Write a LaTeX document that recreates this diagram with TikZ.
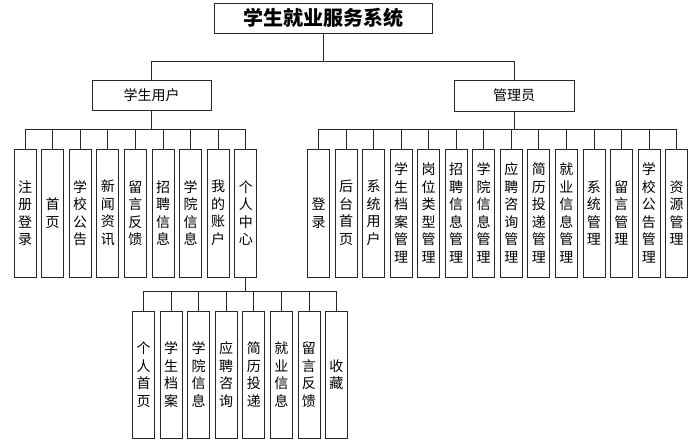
\documentclass[tikz,border=0pt]{standalone}
\usepackage{fontspec}
\newfontfamily\cjk{Noto Sans CJK SC}
\begin{document}
\begin{tikzpicture}[x=1pt,y=-1pt,
  conn/.style={draw=black!85, line width=0.8pt},
  box/.style={draw=black!85, line width=0.8pt, fill=white, inner sep=0pt, align=center,
    font=\cjk\fontsize{14}{17.5}\selectfont},
  leaf/.style={box, minimum width=22pt, minimum height=128pt}]
\useasboundingbox (0,0) rectangle (694,446);
\node[box, minimum width=218pt, minimum height=30pt, font=\cjk\bfseries\fontsize{20}{24}\selectfont] (top) at (323,18) {学生就业服务系统};
\node[box, minimum width=119pt, minimum height=30pt] (su) at (151.5,95) {学生用户};
\node[box, minimum width=120pt, minimum height=31pt] (ad) at (514,95.5) {管理员};
\coordinate (tbar) at (0,61);
\coordinate (sbar) at (0,129);
\coordinate (pbar) at (0,291);
\foreach \t [count=\i from 0] in {{注\\册\\登\\录},{首\\页},{学\\校\\公\\告},{新\\闻\\资\\讯},{留\\言\\反\\馈},{招\\聘\\信\\息},{学\\院\\信\\息},{我\\的\\账\\户},{个\\人\\中\\心}}
  \node[leaf] (s\i) at (25+27.6*\i,213) {\t};
\foreach \t [count=\i from 0] in {{登\\录},{后\\台\\首\\页},{系\\统\\用\\户},{学\\生\\档\\案\\管\\理},{岗\\位\\类\\型\\管\\理},{招\\聘\\信\\息\\管\\理},{学\\院\\信\\息\\管\\理},{应\\聘\\咨\\询\\管\\理},{简\\历\\投\\递\\管\\理},{就\\业\\信\\息\\管\\理},{系\\统\\管\\理},{留\\言\\管\\理},{学\\校\\公\\告\\管\\理},{资\\源\\管\\理}}
  \node[leaf] (a\i) at (318.5+27.54*\i,213) {\t};
\foreach \t [count=\i from 0] in {{个\\人\\首\\页},{学\\生\\档\\案},{学\\院\\信\\息},{应\\聘\\咨\\询},{简\\历\\投\\递},{就\\业\\信\\息},{留\\言\\反\\馈},{收\\藏}}
  \node[leaf, minimum height=127pt] (p\i) at (143.5+27.57*\i,374.5) {\t};
\draw[conn] (top.south) |- (su.north |- tbar) -- (su.north);
\draw[conn] (top.south) |- (ad.north |- tbar) -- (ad.north);
\foreach \i in {0,...,8}
  \draw[conn] (su.south) |- (s\i.north |- sbar) -- (s\i.north);
\foreach \i in {0,...,13}
  \draw[conn] (ad.south) |- (a\i.north |- sbar) -- (a\i.north);
\foreach \i in {0,...,7}
  \draw[conn] (s8.south) |- (p\i.north |- pbar) -- (p\i.north);
\end{tikzpicture}
\end{document}
